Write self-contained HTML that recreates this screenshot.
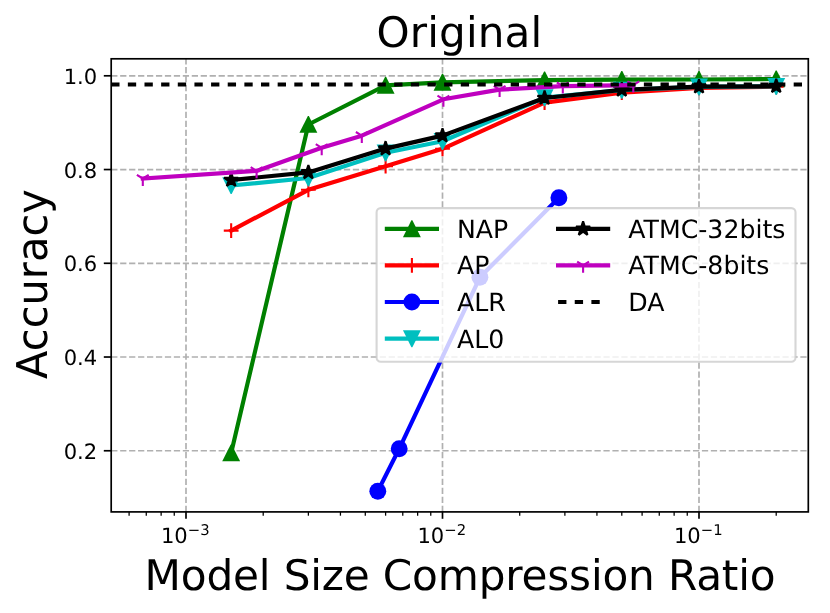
<!DOCTYPE html>
<html><head><meta charset="utf-8"><title>Original</title>
<style>html,body{margin:0;padding:0;background:#fff}svg{display:block}text{font-family:"DejaVu Sans","Liberation Sans",sans-serif;fill:#000;text-rendering:geometricPrecision}</style></head><body>
<svg width="830" height="613" viewBox="0 0 830 613">
<rect width="830" height="613" fill="#fff"/>
<defs><clipPath id="ax"><rect x="111.20" y="58.80" width="697.10" height="453.10"/></clipPath></defs>
<g stroke="#b0b0b0" stroke-width="1.69" stroke-dasharray="6.25 2.7" fill="none" clip-path="url(#ax)"><path d="M186.00 511.90V58.80"/><path d="M442.50 511.90V58.80"/><path d="M699.00 511.90V58.80"/><path d="M111.20 450.76H808.30"/><path d="M111.20 357.02H808.30"/><path d="M111.20 263.28H808.30"/><path d="M111.20 169.54H808.30"/><path d="M111.20 75.80H808.30"/></g>
<g stroke="#000" stroke-width="1.69" fill="none"><path d="M186.00 511.90v6.9"/><path d="M442.50 511.90v6.9"/><path d="M699.00 511.90v6.9"/><path d="M111.20 450.76h-7.4"/><path d="M111.20 357.02h-7.4"/><path d="M111.20 263.28h-7.4"/><path d="M111.20 169.54h-7.4"/><path d="M111.20 75.80h-7.4"/></g>
<g stroke="#000" stroke-width="1.27" fill="none"><path d="M129.10 511.90v3.8"/><path d="M146.27 511.90v3.8"/><path d="M161.14 511.90v3.8"/><path d="M174.26 511.90v3.8"/><path d="M263.21 511.90v3.8"/><path d="M308.38 511.90v3.8"/><path d="M340.43 511.90v3.8"/><path d="M365.29 511.90v3.8"/><path d="M385.60 511.90v3.8"/><path d="M402.77 511.90v3.8"/><path d="M417.64 511.90v3.8"/><path d="M430.76 511.90v3.8"/><path d="M519.71 511.90v3.8"/><path d="M564.88 511.90v3.8"/><path d="M596.93 511.90v3.8"/><path d="M621.79 511.90v3.8"/><path d="M642.10 511.90v3.8"/><path d="M659.27 511.90v3.8"/><path d="M674.14 511.90v3.8"/><path d="M687.26 511.90v3.8"/><path d="M776.21 511.90v3.8"/></g>
<g clip-path="url(#ax)">
<polyline points="231.17,453.00 308.38,124.50 385.60,85.30 442.50,82.30 544.57,80.20 621.79,79.70 699.00,79.50 776.21,79.00" fill="none" stroke="#008000" stroke-width="4.20" stroke-linejoin="round" stroke-linecap="square"/>
<polygon points="222.22,461.33 240.12,461.33 231.67,444.40 230.67,444.40" fill="#008000"/>
<polygon points="299.43,132.83 317.33,132.83 308.88,115.90 307.88,115.90" fill="#008000"/>
<polygon points="376.65,93.63 394.55,93.63 386.10,76.70 385.10,76.70" fill="#008000"/>
<polygon points="433.55,90.63 451.45,90.63 443.00,73.70 442.00,73.70" fill="#008000"/>
<polygon points="535.62,88.53 553.52,88.53 545.07,71.60 544.07,71.60" fill="#008000"/>
<polygon points="612.84,88.03 630.74,88.03 622.29,71.10 621.29,71.10" fill="#008000"/>
<polygon points="690.05,87.83 707.95,87.83 699.50,70.90 698.50,70.90" fill="#008000"/>
<polygon points="767.26,87.33 785.16,87.33 776.71,70.40 775.71,70.40" fill="#008000"/>
<polyline points="231.17,230.60 308.38,189.80 385.60,166.20 442.50,148.80 544.57,102.70 621.79,92.60 699.00,87.80 776.21,86.80" fill="none" stroke="#ff0000" stroke-width="4.20" stroke-linejoin="round" stroke-linecap="square"/>
<path d="M223.77 230.60H238.57M231.17 223.20V238.00" stroke="#ff0000" stroke-width="2.10" fill="none"/>
<path d="M300.98 189.80H315.78M308.38 182.40V197.20" stroke="#ff0000" stroke-width="2.10" fill="none"/>
<path d="M378.20 166.20H393.00M385.60 158.80V173.60" stroke="#ff0000" stroke-width="2.10" fill="none"/>
<path d="M435.10 148.80H449.90M442.50 141.40V156.20" stroke="#ff0000" stroke-width="2.10" fill="none"/>
<path d="M537.17 102.70H551.97M544.57 95.30V110.10" stroke="#ff0000" stroke-width="2.10" fill="none"/>
<path d="M614.39 92.60H629.19M621.79 85.20V100.00" stroke="#ff0000" stroke-width="2.10" fill="none"/>
<path d="M691.60 87.80H706.40M699.00 80.40V95.20" stroke="#ff0000" stroke-width="2.10" fill="none"/>
<path d="M768.81 86.80H783.61M776.21 79.40V94.20" stroke="#ff0000" stroke-width="2.10" fill="none"/>
<polyline points="377.80,491.30 399.20,448.80 479.90,277.30 558.90,197.80" fill="none" stroke="#0000ff" stroke-width="4.20" stroke-linejoin="round" stroke-linecap="square"/>
<circle cx="377.80" cy="491.30" r="8.45" fill="#0000ff"/>
<circle cx="399.20" cy="448.80" r="8.45" fill="#0000ff"/>
<circle cx="479.90" cy="277.30" r="8.45" fill="#0000ff"/>
<circle cx="558.90" cy="197.80" r="8.45" fill="#0000ff"/>
<polyline points="231.17,185.50 308.38,178.00 385.60,152.80 442.50,141.30 544.57,97.70 621.79,90.10 699.00,86.90 776.21,86.30" fill="none" stroke="#00bfbf" stroke-width="4.20" stroke-linejoin="round" stroke-linecap="square"/>
<polygon points="222.22,177.17 240.12,177.17 231.67,194.10 230.67,194.10" fill="#00bfbf"/>
<polygon points="299.43,169.67 317.33,169.67 308.88,186.60 307.88,186.60" fill="#00bfbf"/>
<polygon points="376.65,144.47 394.55,144.47 386.10,161.40 385.10,161.40" fill="#00bfbf"/>
<polygon points="433.55,132.97 451.45,132.97 443.00,149.90 442.00,149.90" fill="#00bfbf"/>
<polygon points="535.62,89.37 553.52,89.37 545.07,106.30 544.07,106.30" fill="#00bfbf"/>
<polygon points="612.84,81.77 630.74,81.77 622.29,98.70 621.29,98.70" fill="#00bfbf"/>
<polygon points="690.05,78.57 707.95,78.57 699.50,95.50 698.50,95.50" fill="#00bfbf"/>
<polygon points="767.26,77.97 785.16,77.97 776.71,94.90 775.71,94.90" fill="#00bfbf"/>
<polyline points="231.17,180.00 308.38,172.40 385.60,148.60 442.50,135.60 544.57,98.00 621.79,89.80 699.00,86.70 776.21,86.20" fill="none" stroke="#000000" stroke-width="4.20" stroke-linejoin="round" stroke-linecap="square"/>
<polygon points="231.17,172.60 232.83,177.71 238.21,177.71 233.86,180.87 235.52,185.99 231.17,182.83 226.82,185.99 228.48,180.87 224.13,177.71 229.51,177.71" fill="#000000" stroke="#000000" stroke-width="2.10" stroke-linejoin="bevel"/>
<polygon points="308.38,165.00 310.04,170.11 315.42,170.11 311.07,173.27 312.73,178.39 308.38,175.23 304.03,178.39 305.69,173.27 301.34,170.11 306.72,170.11" fill="#000000" stroke="#000000" stroke-width="2.10" stroke-linejoin="bevel"/>
<polygon points="385.60,141.20 387.26,146.31 392.63,146.31 388.28,149.47 389.95,154.59 385.60,151.43 381.25,154.59 382.91,149.47 378.56,146.31 383.93,146.31" fill="#000000" stroke="#000000" stroke-width="2.10" stroke-linejoin="bevel"/>
<polygon points="442.50,128.20 444.16,133.31 449.54,133.31 445.19,136.47 446.85,141.59 442.50,138.43 438.15,141.59 439.81,136.47 435.46,133.31 440.84,133.31" fill="#000000" stroke="#000000" stroke-width="2.10" stroke-linejoin="bevel"/>
<polygon points="544.57,90.60 546.23,95.71 551.61,95.71 547.26,98.87 548.92,103.99 544.57,100.83 540.22,103.99 541.88,98.87 537.53,95.71 542.91,95.71" fill="#000000" stroke="#000000" stroke-width="2.10" stroke-linejoin="bevel"/>
<polygon points="621.79,82.40 623.45,87.51 628.82,87.51 624.47,90.67 626.14,95.79 621.79,92.63 617.44,95.79 619.10,90.67 614.75,87.51 620.12,87.51" fill="#000000" stroke="#000000" stroke-width="2.10" stroke-linejoin="bevel"/>
<polygon points="699.00,79.30 700.66,84.41 706.04,84.41 701.69,87.57 703.35,92.69 699.00,89.53 694.65,92.69 696.31,87.57 691.96,84.41 697.34,84.41" fill="#000000" stroke="#000000" stroke-width="2.10" stroke-linejoin="bevel"/>
<polygon points="776.21,78.80 777.88,83.91 783.25,83.91 778.90,87.07 780.56,92.19 776.21,89.03 771.86,92.19 773.53,87.07 769.18,83.91 774.55,83.91" fill="#000000" stroke="#000000" stroke-width="2.10" stroke-linejoin="bevel"/>
<polyline points="142.80,178.50 256.60,170.90 321.70,147.80 361.80,135.70 443.40,99.30 499.60,89.60 562.80,86.20 633.30,85.10" fill="none" stroke="#bf00bf" stroke-width="4.20" stroke-linejoin="round" stroke-linecap="square"/>
<path d="M142.80 178.50V185.90M142.80 178.50L148.72 174.80M142.80 178.50L136.88 174.80" stroke="#bf00bf" stroke-width="2.10" fill="none"/>
<path d="M256.60 170.90V178.30M256.60 170.90L262.52 167.20M256.60 170.90L250.68 167.20" stroke="#bf00bf" stroke-width="2.10" fill="none"/>
<path d="M321.70 147.80V155.20M321.70 147.80L327.62 144.10M321.70 147.80L315.78 144.10" stroke="#bf00bf" stroke-width="2.10" fill="none"/>
<path d="M361.80 135.70V143.10M361.80 135.70L367.72 132.00M361.80 135.70L355.88 132.00" stroke="#bf00bf" stroke-width="2.10" fill="none"/>
<path d="M443.40 99.30V106.70M443.40 99.30L449.32 95.60M443.40 99.30L437.48 95.60" stroke="#bf00bf" stroke-width="2.10" fill="none"/>
<path d="M499.60 89.60V97.00M499.60 89.60L505.52 85.90M499.60 89.60L493.68 85.90" stroke="#bf00bf" stroke-width="2.10" fill="none"/>
<path d="M562.80 86.20V93.60M562.80 86.20L568.72 82.50M562.80 86.20L556.88 82.50" stroke="#bf00bf" stroke-width="2.10" fill="none"/>
<path d="M633.30 85.10V92.50M633.30 85.10L639.22 81.40M633.30 85.10L627.38 81.40" stroke="#bf00bf" stroke-width="2.10" fill="none"/>
<path d="M111.20 84.50H808.30" stroke="#000" stroke-width="4.20" stroke-dasharray="8.323 8.323" fill="none"/>
</g>
<rect x="111.20" y="58.80" width="697.10" height="453.10" fill="none" stroke="#000" stroke-width="1.69"/>
<text x="97.2" y="83.90" font-size="21.1" text-anchor="end">1.0</text>
<text x="97.2" y="177.64" font-size="21.1" text-anchor="end">0.8</text>
<text x="97.2" y="271.38" font-size="21.1" text-anchor="end">0.6</text>
<text x="97.2" y="365.12" font-size="21.1" text-anchor="end">0.4</text>
<text x="97.2" y="458.86" font-size="21.1" text-anchor="end">0.2</text>
<text x="160.90" y="542.9" font-size="21.1">10<tspan font-size="14.8" dy="-8.2">−3</tspan></text>
<text x="417.40" y="542.9" font-size="21.1">10<tspan font-size="14.8" dy="-8.2">−2</tspan></text>
<text x="673.90" y="542.9" font-size="21.1">10<tspan font-size="14.8" dy="-8.2">−1</tspan></text>
<text x="459.4" y="46.6" font-size="42.1" letter-spacing="0.12" text-anchor="middle">Original</text>
<text x="460.0" y="589.6" font-size="42.2" letter-spacing="-0.17" text-anchor="middle">Model Size Compression Ratio</text>
<text transform="translate(47.0 284.0) rotate(-90) scale(1 1.02)" font-size="41.6" text-anchor="middle">Accuracy</text>
<rect x="376.60" y="208.10" width="418.90" height="153.70" rx="4.2" ry="4.2" fill="#fff" fill-opacity="0.8" stroke="#ccc" stroke-opacity="0.8" stroke-width="2.1"/>
<path d="M386.90 228.80H436.90" stroke="#008000" stroke-width="4.20" stroke-linecap="square" fill="none"/>
<polygon points="402.95,237.13 420.85,237.13 412.40,220.20 411.40,220.20" fill="#008000"/>
<text x="457.0" y="237.70" font-size="25.2">NAP</text>
<path d="M386.90 265.30H436.90" stroke="#ff0000" stroke-width="4.20" stroke-linecap="square" fill="none"/>
<path d="M404.50 265.30H419.30M411.90 257.90V272.70" stroke="#ff0000" stroke-width="2.10" fill="none"/>
<text x="457.0" y="274.20" font-size="25.2">AP</text>
<path d="M386.90 302.00H436.90" stroke="#0000ff" stroke-width="4.20" stroke-linecap="square" fill="none"/>
<circle cx="411.90" cy="302.00" r="8.45" fill="#0000ff"/>
<text x="457.0" y="310.90" font-size="25.2">ALR</text>
<path d="M386.90 338.70H436.90" stroke="#00bfbf" stroke-width="4.20" stroke-linecap="square" fill="none"/>
<polygon points="402.95,330.37 420.85,330.37 412.40,347.30 411.40,347.30" fill="#00bfbf"/>
<text x="457.0" y="347.60" font-size="25.2">AL0</text>
<path d="M558.10 228.80H608.10" stroke="#000000" stroke-width="4.20" stroke-linecap="square" fill="none"/>
<polygon points="583.10,221.40 584.76,226.51 590.14,226.51 585.79,229.67 587.45,234.79 583.10,231.63 578.75,234.79 580.41,229.67 576.06,226.51 581.44,226.51" fill="#000000" stroke="#000000" stroke-width="2.10" stroke-linejoin="bevel"/>
<text x="628.3" y="237.70" font-size="25.2">ATMC-32bits</text>
<path d="M558.10 265.30H608.10" stroke="#bf00bf" stroke-width="4.20" stroke-linecap="square" fill="none"/>
<path d="M583.10 265.30V272.70M583.10 265.30L589.02 261.60M583.10 265.30L577.18 261.60" stroke="#bf00bf" stroke-width="2.10" fill="none"/>
<text x="628.3" y="274.20" font-size="25.2">ATMC-8bits</text>
<path d="M558.10 302.00H606.10" stroke="#000" stroke-width="4.20" stroke-dasharray="8.323 8.323" fill="none"/>
<text x="628.3" y="310.90" font-size="25.2">DA</text>
</svg></body></html>
